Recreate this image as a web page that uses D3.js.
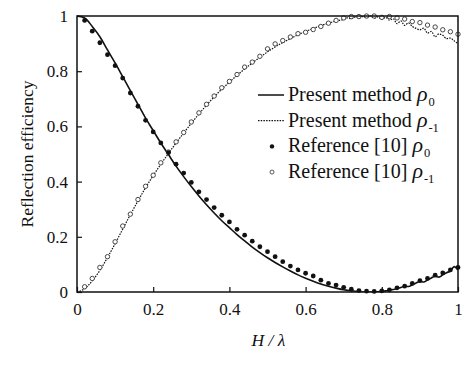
<!DOCTYPE html>
<html>
<head>
<meta charset="utf-8">
<script src="https://cdn.jsdelivr.net/npm/d3@7.9.0/dist/d3.min.js"></script>
<style>
  body { margin: 0; background: #fff; }
  #chart text, #chart tspan { font-family: "Liberation Serif", serif !important; }
</style>
</head>
<body>
<svg id="chart" width="474" height="366" font-family="Liberation Serif"></svg>
<script>
// Present method, dense curve samples
const lineX = [0, 0.02, 0.04, 0.06, 0.08, 0.10, 0.12, 0.14, 0.16, 0.18, 0.20, 0.22, 0.24, 0.26, 0.28, 0.30,
  0.32, 0.34, 0.36, 0.38, 0.40, 0.42, 0.44, 0.46, 0.48, 0.50, 0.52, 0.54, 0.56, 0.58, 0.60, 0.62, 0.64,
  0.66, 0.68, 0.70, 0.71, 0.72, 0.73, 0.74, 0.75, 0.76, 0.77, 0.78, 0.79, 0.80, 0.81, 0.82, 0.83, 0.84,
  0.85, 0.86, 0.87, 0.88, 0.89, 0.90, 0.91, 0.92, 0.93, 0.94, 0.95, 0.96, 0.97, 0.98, 0.99, 1.00];
const presentRho0 = [1.0, 0.993, 0.962, 0.925, 0.877, 0.83, 0.78, 0.73, 0.68, 0.63, 0.585, 0.54, 0.498,
  0.456, 0.418, 0.382, 0.348, 0.316, 0.286, 0.258, 0.233, 0.208, 0.185, 0.163, 0.143, 0.124, 0.107, 0.091,
  0.076, 0.062, 0.050, 0.039, 0.029, 0.021, 0.014, 0.008, 0.006, 0.004, 0.003, 0.001, 0.0, 0.0, 0.0, 0.0,
  0.001, 0.002, 0.004, 0.006, 0.009, 0.012, 0.016, 0.022, 0.020, 0.026, 0.033, 0.038, 0.036, 0.044, 0.051,
  0.057, 0.054, 0.062, 0.070, 0.076, 0.092, 0.080];
const presentRhoM1 = [0.0, 0.012, 0.040, 0.078, 0.125, 0.175, 0.228, 0.280, 0.330, 0.378, 0.422, 0.463,
  0.502, 0.540, 0.576, 0.611, 0.645, 0.677, 0.707, 0.735, 0.760, 0.785, 0.808, 0.830, 0.850, 0.870, 0.888,
  0.904, 0.918, 0.932, 0.944, 0.955, 0.965, 0.974, 0.982, 0.988, 0.993, 0.990, 0.996, 0.993, 0.998, 0.994,
  1.0, 0.992, 0.997, 0.988, 0.995, 0.985, 0.990, 0.972, 0.982, 0.966, 0.975, 0.962, 0.955, 0.950, 0.956,
  0.938, 0.944, 0.925, 0.935, 0.930, 0.918, 0.920, 0.910, 0.900];

// Reference [10] markers
const refX = [0.02, 0.04, 0.06, 0.08, 0.10, 0.12, 0.14, 0.16, 0.18, 0.20, 0.22, 0.24, 0.26, 0.28, 0.30,
  0.32, 0.34, 0.36, 0.38, 0.40, 0.42, 0.44, 0.46, 0.48, 0.50, 0.52, 0.54, 0.56, 0.58, 0.60, 0.62, 0.64,
  0.66, 0.68, 0.70, 0.72, 0.74, 0.76, 0.78, 0.80, 0.82, 0.84, 0.86, 0.88, 0.90, 0.92, 0.94, 0.96, 0.98, 1.00];
const refRho0 = [0.984, 0.945, 0.903, 0.860, 0.820, 0.775, 0.721, 0.673, 0.622, 0.580, 0.540, 0.505,
  0.463, 0.431, 0.397, 0.363, 0.335, 0.306, 0.278, 0.254, 0.227, 0.206, 0.184, 0.164, 0.146, 0.128, 0.110,
  0.094, 0.080, 0.068, 0.058, 0.043, 0.031, 0.025, 0.017, 0.010, 0.005, 0.003, 0.002, 0.004, 0.008, 0.015,
  0.021, 0.031, 0.041, 0.049, 0.061, 0.069, 0.080, 0.089];
const refRhoM1 = [0.019, 0.049, 0.089, 0.128, 0.182, 0.239, 0.282, 0.335, 0.383, 0.423, 0.468, 0.507,
  0.544, 0.578, 0.616, 0.649, 0.680, 0.710, 0.740, 0.763, 0.788, 0.815, 0.833, 0.854, 0.881, 0.899, 0.911,
  0.924, 0.936, 0.941, 0.951, 0.962, 0.974, 0.984, 0.993, 0.998, 0.998, 1.0, 1.0, 0.995, 0.998, 0.993,
  0.989, 0.980, 0.976, 0.967, 0.960, 0.950, 0.943, 0.934];

const ticks = [0, 0.2, 0.4, 0.6, 0.8, 1];
const tickLabels = ["0", "0.2", "0.4", "0.6", "0.8", "1"];

const FONT = "Liberation Serif";

const svg = d3.select("#chart");
const margin = { left: 77, right: 16, top: 16, bottom: 74 };
const W = 474, H = 366;

const x = d3.scaleLinear().domain([0, 1]).range([margin.left, W - margin.right]);
const y = d3.scaleLinear().domain([0, 1]).range([H - margin.bottom, margin.top]);

// clip so curves stay in the frame
svg.append("clipPath").attr("id", "clip")
  .append("rect")
  .attr("x", margin.left).attr("y", margin.top - 1)
  .attr("width", W - margin.left - margin.right)
  .attr("height", H - margin.top - margin.bottom + 1);

const plot = svg.append("g").attr("clip-path", "url(#clip)");

const line = (ys) => d3.line()
  .x((d, i) => x(lineX[i]))
  .y((d) => y(d))
  .curve(d3.curveMonotoneX)(ys);

plot.append("path")
  .attr("d", line(presentRhoM1))
  .attr("fill", "none").attr("stroke", "#111")
  .attr("stroke-width", 1.2).attr("stroke-dasharray", "1.5,1.2");

plot.append("path")
  .attr("d", line(presentRho0))
  .attr("fill", "none").attr("stroke", "#111")
  .attr("stroke-width", 1.6);

// markers
svg.append("g").selectAll("circle")
  .data(refRhoM1).join("circle")
  .attr("cx", (d, i) => x(refX[i])).attr("cy", (d) => y(d))
  .attr("r", 2.2).attr("fill", "#fff").attr("stroke", "#333").attr("stroke-width", 0.9);

svg.append("g").selectAll("circle")
  .data(refRho0).join("circle")
  .attr("cx", (d, i) => x(refX[i])).attr("cy", (d) => y(d))
  .attr("r", 2.4).attr("fill", "#111");

// axes (ticks inward)
const xAxis = d3.axisBottom(x).tickValues(ticks).tickFormat((d, i) => tickLabels[i])
  .tickSizeInner(-5).tickSizeOuter(0).tickPadding(11);
const yAxis = d3.axisLeft(y).tickValues(ticks).tickFormat((d, i) => tickLabels[i])
  .tickSizeInner(-5).tickSizeOuter(0).tickPadding(9);

const gx = svg.append("g").attr("transform", `translate(0,${H - margin.bottom})`).call(xAxis);
const gy = svg.append("g").attr("transform", `translate(${margin.left},0)`).call(yAxis);
[gx, gy].forEach((g) => {
  g.attr("font-family", FONT).attr("font-size", 17);
  g.select(".domain").remove();
  g.selectAll("line").attr("stroke", "#111").attr("stroke-width", 1.2);
  g.selectAll("text").attr("fill", "#111");
});

// frame
svg.append("rect")
  .attr("x", margin.left).attr("y", margin.top)
  .attr("width", W - margin.left - margin.right)
  .attr("height", H - margin.top - margin.bottom)
  .attr("fill", "none").attr("stroke", "#111").attr("stroke-width", 1.5);

// axis titles
svg.append("text")
  .attr("transform", `translate(33,${(margin.top + H - margin.bottom) / 2}) rotate(-90)`)
  .attr("text-anchor", "middle").attr("font-size", 17.5).attr("font-family", FONT).attr("fill", "#111")
  .text("Reflection efficiency");

svg.append("text")
  .attr("x", (margin.left + W - margin.right) / 2 + 1).attr("y", 346)
  .attr("text-anchor", "middle").attr("font-size", 17.5).attr("font-style", "italic")
  .attr("font-family", FONT).attr("fill", "#111")
  .text("H / λ");

// legend
const legendItems = [
  { kind: "solid", sub: "0", label: "Present method " },
  { kind: "dotted", sub: "-1", label: "Present method " },
  { kind: "dot", sub: "0", label: "Reference [10] " },
  { kind: "circle", sub: "-1", label: "Reference [10] " }
];
const lg = svg.append("g");
legendItems.forEach((d, i) => {
  const cy = 95 + i * 25.7;
  if (d.kind === "solid") {
    lg.append("line").attr("x1", 258).attr("x2", 284).attr("y1", cy).attr("y2", cy)
      .attr("stroke", "#111").attr("stroke-width", 1.5);
  } else if (d.kind === "dotted") {
    lg.append("line").attr("x1", 258).attr("x2", 284).attr("y1", cy).attr("y2", cy)
      .attr("stroke", "#111").attr("stroke-width", 1.2).attr("stroke-dasharray", "1.5,1.2");
  } else if (d.kind === "dot") {
    lg.append("circle").attr("cx", 272).attr("cy", cy).attr("r", 2.2).attr("fill", "#111");
  } else {
    lg.append("circle").attr("cx", 272).attr("cy", cy).attr("r", 2).attr("fill", "#fff")
      .attr("stroke", "#333").attr("stroke-width", 0.8);
  }
  const t = lg.append("text").attr("x", 288).attr("y", cy + 6)
    .attr("font-size", 20).attr("font-family", FONT).attr("fill", "#111");
  t.append("tspan").text(d.label);
  t.append("tspan").attr("font-style", "italic").attr("font-size", 22).text("ρ");
  t.append("tspan").attr("dx", 1).attr("dy", 5).attr("font-size", 12.5).text(d.sub);
});
</script>
</body>
</html>
